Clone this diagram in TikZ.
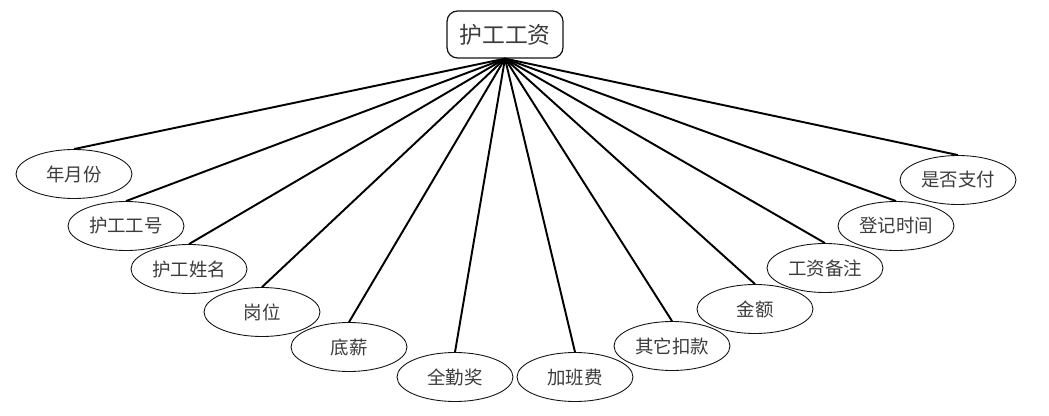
\documentclass[tikz,border=0pt]{standalone}
\usepackage{fontspec}
\newfontfamily\cjk{Noto Sans CJK SC}
\usepackage{tikz}
\usetikzlibrary{shapes.geometric}
\definecolor{inkline}{RGB}{20, 20, 20}
\definecolor{inktext}{RGB}{60, 60, 60}
\tikzset{
    ent/.style  ={draw=inkline, line width=0.7pt, fill=white,
                  rounded corners=6pt, minimum width=2.32cm, minimum height=0.94cm,
                  font=\cjk\fontsize{13}{15}\selectfont, text=inktext},
    attr/.style ={draw=inkline, line width=0.5pt, fill=white, ellipse,
                  minimum width=2.32cm, minimum height=0.98cm, inner sep=0pt,
                  font=\cjk\fontsize{10.5}{12}\selectfont, text=inktext},
    ln/.style   ={line width=1.1pt, draw=black}
}

\begin{document}
\begin{tikzpicture}[x=0.02cm, y=-0.02cm]
  \useasboundingbox (0,0) rectangle (1049,416);

  \node[ent] (root) at (505,34.5) {护工工资};

  \node[attr] (ny)   at (74,174)  {年月份};
  \node[attr] (hgno) at (126,226) {护工工号};
  \node[attr] (hgnm) at (189,269) {护工姓名};
  \node[attr] (gw)   at (262,312) {岗位};
  \node[attr] (dx)   at (349,347) {底薪};
  \node[attr] (qqj)  at (455,377) {全勤奖};
  \node[attr] (jbf)  at (575,377) {加班费};
  \node[attr] (qtkk) at (672,346) {其它扣款};
  \node[attr] (je)   at (755,309) {金额};
  \node[attr] (gzbz) at (825,268) {工资备注};
  \node[attr] (djsj) at (896,226) {登记时间};
  \node[attr] (sfzf) at (958,180) {是否支付};

  \draw[ln] (root.south) -- (ny.north);
  \draw[ln] (root.south) -- (hgno.north);
  \draw[ln] (root.south) -- (hgnm.north);
  \draw[ln] (root.south) -- (gw.north);
  \draw[ln] (root.south) -- (dx.north);
  \draw[ln] (root.south) -- (qqj.north);
  \draw[ln] (root.south) -- (jbf.north);
  \draw[ln] (root.south) -- (qtkk.north);
  \draw[ln] (root.south) -- (je.north);
  \draw[ln] (root.south) -- (gzbz.north);
  \draw[ln] (root.south) -- (djsj.north);
  \draw[ln] (root.south) -- (sfzf.north);
\end{tikzpicture}
\end{document}
